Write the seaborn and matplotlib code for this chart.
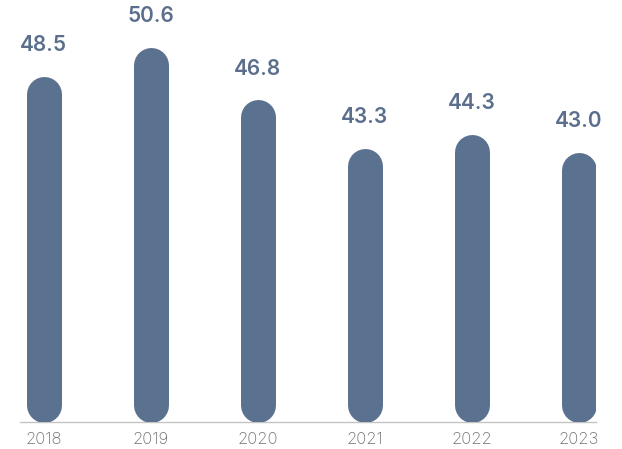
import matplotlib
matplotlib.use("Agg")
import matplotlib.pyplot as plt
import seaborn as sns

years = ["2018", "2019", "2020", "2021", "2022", "2023"]
values = [48.5, 50.6, 46.8, 43.3, 44.3, 43.0]

BAR_COLOR = "#5b7190"
LABEL_COLOR = "#5b6f8d"
TICK_COLOR = "#707070"

sns.set_theme(style="white")
plt.rcParams["font.family"] = ["Inter", "DejaVu Sans"]

W, H = 622, 449
DPI = 100
fig = plt.figure(figsize=(W / DPI, H / DPI), dpi=DPI)
ax_left, ax_right, ax_bottom, ax_top = 20, 596, 422, 0
ax = fig.add_axes([ax_left / W, (H - ax_bottom) / H,
                   (ax_right - ax_left) / W, (ax_bottom - ax_top) / H])

BAR_PX = 35
sns.barplot(x=years, y=values, color=BAR_COLOR, width=BAR_PX / 107, ax=ax,
            saturation=1)

Y0, Y1 = 23.5, 54.0
X0, X1 = -0.22, 5.16
ax.set_xlim(X0, X1)
ax.set_ylim(Y0, Y1)

sy = (ax_bottom - ax_top) / (Y1 - Y0)      # px per y unit
cap = (BAR_PX / 2) / sy                     # cap radius in data units

# replace the square bars by pill-shaped strokes at the same positions
for p in list(ax.patches):
    xc = p.get_x() + p.get_width() / 2
    h = p.get_height()
    p.remove()
    ax.plot([xc, xc], [Y0 + cap - 0.05, h - cap], color=BAR_COLOR,
            linewidth=BAR_PX * 72 / DPI, solid_capstyle="round", zorder=3)

for i, v in enumerate(values):
    ax.annotate(f"{v:.1f}", (i, v), xytext=(0, 21 * 72 / DPI),
                textcoords="offset points", ha="center", va="bottom",
                fontsize=15, fontweight="semibold", color=LABEL_COLOR,
                annotation_clip=False)

for s in ["top", "right", "left"]:
    ax.spines[s].set_visible(False)
ax.spines["bottom"].set_color("#c4c4c4")
ax.spines["bottom"].set_linewidth(1)
ax.spines["bottom"].set_zorder(2)
ax.set_yticks([])
ax.set_xlabel("")
ax.set_ylabel("")
ax.tick_params(axis="x", length=0, pad=7, labelsize=12, labelcolor=TICK_COLOR)
for t in ax.get_xticklabels():
    t.set_fontweight("light")
ax.patch.set_alpha(0)
fig.savefig("out.png", dpi=DPI, facecolor="white")
